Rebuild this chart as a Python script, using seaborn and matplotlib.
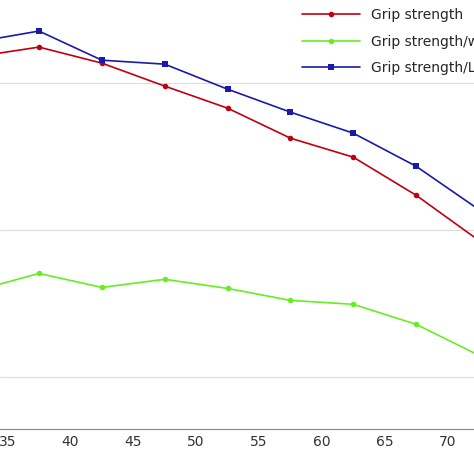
import matplotlib
matplotlib.use("Agg")
import matplotlib.pyplot as plt
import seaborn as sns
import pandas as pd

ages = [32.5, 37.5, 42.5, 47.5, 52.5, 57.5, 62.5, 67.5, 72.5]
grip = [31.8, 32.45, 31.36, 29.80, 28.30, 26.26, 24.97, 22.38, 19.3]
grip_w = [15.9, 17.07, 16.12, 16.67, 16.05, 15.24, 14.97, 13.61, 11.5]
grip_l = [32.8, 33.54, 31.56, 31.29, 29.59, 28.03, 26.60, 24.35, 21.4]
labels = ["Grip strength", "Grip strength/weight", "Grip strength/LBM"]
xticks = [35, 40, 45, 50, 55, 60, 65, 70]

sns.set_style("white")
fig = plt.figure(figsize=(4.74, 4.74), dpi=100)
ax = fig.add_axes([0, 0.095, 1, 0.905])
specs = [(grip, "#c00010", "o"), (grip_w, "#66ee22", "o"), (grip_l, "#1a1aaa", "s")]
for (vals, c, m), lab in zip(specs, labels):
    df = pd.DataFrame({"age": ages, "v": vals})
    sns.lineplot(data=df, x="age", y="v", color=c, marker=m, markersize=4,
                 markeredgewidth=0, linewidth=1.2, label=lab, ax=ax)
ax.set_xlim(34.4, 72.1)
ax.set_ylim(6.5, 35.65)
ax.set_yticks([10, 20, 30])
ax.yaxis.grid(True, color="#dddddd", linewidth=0.8)
ax.tick_params(axis="y", left=False, labelleft=False)
ax.set_xticks(xticks)
ax.tick_params(axis="x", labelsize=10, colors="#333333", length=0, pad=4)
ax.set_xlabel("")
ax.set_ylabel("")
for s in ["top", "right", "left"]:
    ax.spines[s].set_visible(False)
ax.spines["bottom"].set_color("#888888")
leg = ax.legend(loc="upper left", bbox_to_anchor=(0.61, 1.01), frameon=False,
                fontsize=10, handlelength=4.2, labelspacing=0.9)
fig.savefig("out.png", dpi=100)
